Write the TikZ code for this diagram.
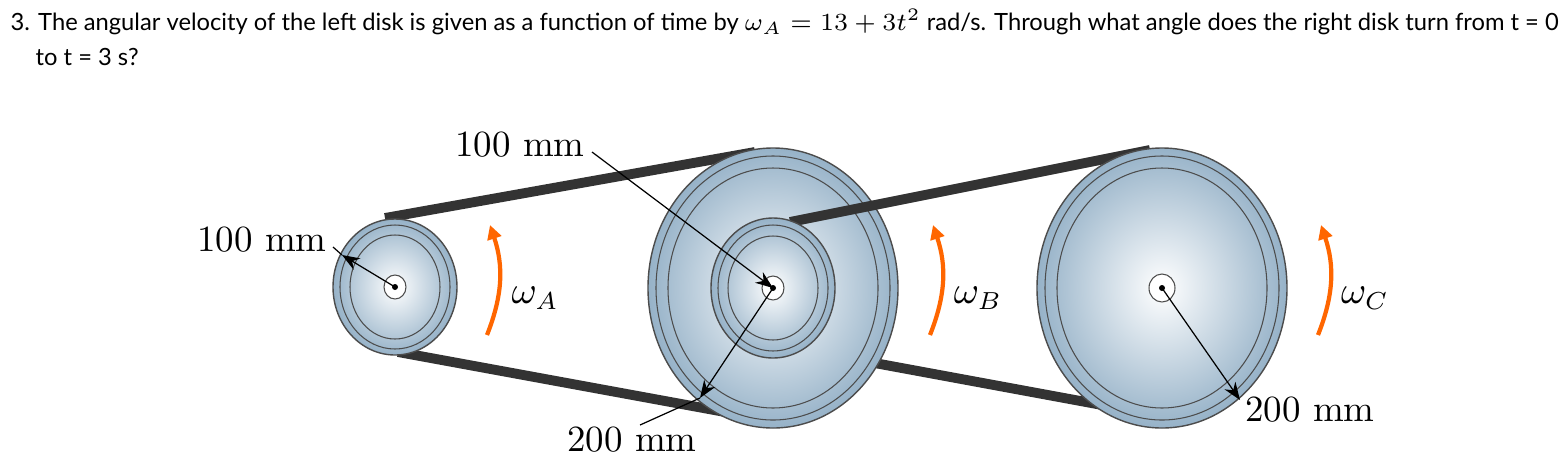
\documentclass[tikz,border=0pt]{standalone}
\usepackage{fontspec}
\setmainfont{Lato}
\newfontfamily\lm{Latin Modern Roman}
\usetikzlibrary{arrows.meta}
\definecolor{steel}{RGB}{150,178,200}
\begin{document}
\begin{tikzpicture}[x=0.01cm,y=-0.01cm,
  belt/.style={line width=2.8pt,draw=black!80},
  disk/.style={draw=black!70,line width=0.4pt,inner color=white,outer color=steel},
  rim/.style={draw=black!70,line width=0.3pt},
  dim/.style={draw=black,line width=0.35pt},
  dimtxt/.style={font=\lm\fontsize{10.5}{10.5}\selectfont},
  omega/.style={draw=orange!80!red,line width=1.2pt,-{Triangle[length=4pt,width=4pt]}}]
\useasboundingbox (0,0) rectangle (1563,472);
\node[anchor=west,inner sep=0,font=\fontsize{6.75}{8}\selectfont] (q1) at (10,22) {3. The angular velocity of the left disk is given as a function of time by $\omega_A=13+3t^2$ rad/s. Through what angle does the right disk turn from t = 0};
\node[anchor=west,inner sep=0,font=\fontsize{6.75}{8}\selectfont] (q2) at (35,57) {to t = 3 s?};
% belts
\draw[belt] (385,218) -- (755,152);
\draw[belt] (398,352) -- (725,412);
\draw[belt] (815,352) -- (1140,412);
% left disk
\coordinate (A) at (395,287);
\draw[disk] (A) ellipse (62 and 68);
\draw[rim] (A) ellipse (55 and 62);
\draw[rim] (A) ellipse (45 and 52);
\draw[rim,fill=white] (A) ellipse (11 and 12);
\fill (A) circle (3);
% middle disk
\coordinate (B) at (773,288);
\draw[disk] (B) ellipse (125 and 140);
\draw[rim] (B) ellipse (117 and 132);
\draw[rim] (B) ellipse (105 and 120);
\draw[belt] (790,222) -- (1150,150);
\draw[disk] (B) ellipse (62 and 70);
\draw[rim] (B) ellipse (55 and 63);
\draw[rim] (B) ellipse (45 and 52);
\draw[rim,fill=white] (B) ellipse (11 and 12);
\fill (B) circle (3);
% right disk
\coordinate (C) at (1162,288);
\draw[disk] (C) ellipse (125 and 140);
\draw[rim] (C) ellipse (117 and 132);
\draw[rim] (C) ellipse (105 and 120);
\draw[rim,fill=white] (C) ellipse (13 and 14);
\fill (C) circle (3);
% omega arrows
\draw[omega] (487,335) to[bend right=20] (490,225);
\node[dimtxt] (wa) at (535,298) {$\omega_A$};
\draw[omega] (930,335) to[bend right=20] (933,225);
\node[dimtxt] (wb) at (978,298) {$\omega_B$};
\draw[omega] (1318,335) to[bend right=20] (1321,225);
\node[dimtxt] (wc) at (1365,298) {$\omega_C$};
% dimensions
\node[dimtxt] (d1) at (520,145) {100 mm};
\draw[dim,-{Stealth[length=5pt]}] (592,152) -- (B);
\node[dimtxt] (d2) at (262,240) {100 mm};
\draw[dim,{Stealth[length=5pt]}-] (342,255) -- (A);
\draw[dim] (342,255) -- (333,247);
\node[dimtxt] (d3) at (632,440) {200 mm};
\draw[dim,{Stealth[length=5pt]}-] (700,398) -- (B);
\draw[dim] (700,398) -- (640,425);
\node[dimtxt] (d4) at (1310,410) {200 mm};
\draw[dim,-{Stealth[length=5pt]}] (C) -- (1240,400);
\end{tikzpicture}
\end{document}
